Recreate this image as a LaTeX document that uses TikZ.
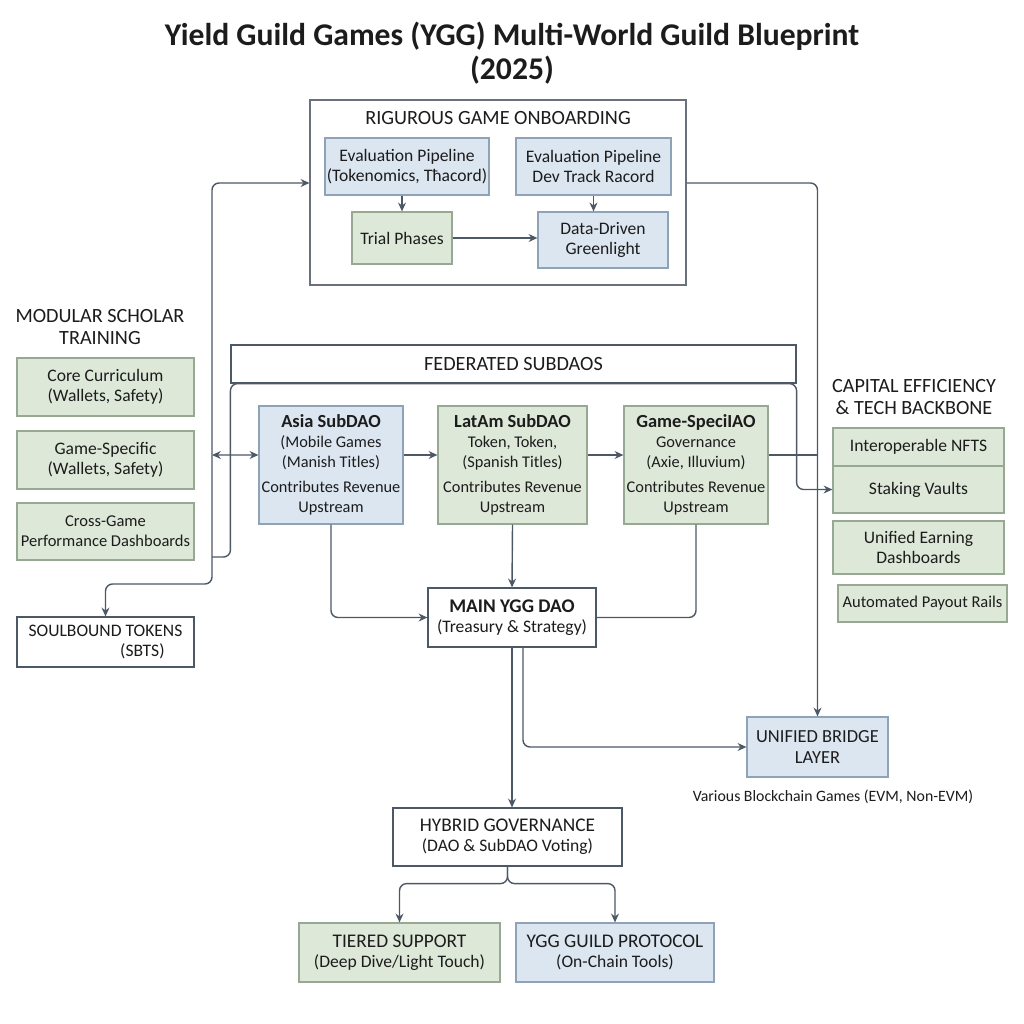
\documentclass[tikz,border=0pt]{standalone}
\usepackage{fontspec}
\setmainfont{Carlito}
\usepackage{tikz}
\usetikzlibrary{arrows.meta}

\definecolor{lineC}{HTML}{4D5866}
\definecolor{textC}{HTML}{1C1C1C}
\definecolor{blueF}{HTML}{DCE6F1}
\definecolor{blueD}{HTML}{8EA2B8}
\definecolor{greenF}{HTML}{DEE8D9}
\definecolor{greenD}{HTML}{97A893}

\newcommand{\capsize}{\fontsize{11}{13}\selectfont}

\begin{document}
\begin{tikzpicture}[x=0.02cm,y=-0.02cm,>={Stealth[length=5pt,width=4.5pt]},
    box/.style={draw=lineC, line width=0.7pt, fill=white, align=center, inner sep=1pt,
                text=textC, font=\fontsize{10}{11.5}\selectfont},
    bluebox/.style={box, draw=blueD, fill=blueF},
    greenbox/.style={box, draw=greenD, fill=greenF},
    subdao/.style={font=\fontsize{9.3}{11.3}\selectfont},
    small/.style={font=\fontsize{9.4}{11.5}\selectfont},
    head/.style={align=center, text=textC, font=\fontsize{11.5}{12.8}\selectfont},
    link/.style={draw=lineC, line width=0.8pt, rounded corners=4pt}]

  % --- canvas -----------------------------------------------------
  \fill[white] (0,0) rectangle (1024,1024);
  \useasboundingbox (0,0) rectangle (1024,1024);

  % --- title ------------------------------------------------------
  \node[align=center, text=textC, font=\fontsize{18}{19.5}\selectfont\bfseries] (title) at (512,53)
        {Yield Guild Games (YGG) Multi-World Guild Blueprint\\(2025)};

  % --- game onboarding --------------------------------------------
  \node[box, draw=lineC!85, minimum width=7.52cm, minimum height=3.70cm] (onboard) at (498,192.5) {};
  \node[head] (onboardT) at (498,118) {RIGUROUS GAME ONBOARDING};
  \node[bluebox, minimum width=3.24cm, minimum height=1.14cm] (evalA) at (407,166.5)
        {Evaluation Pipeline\\(Tokenomics, Tħacord)};
  \node[bluebox, minimum width=3.10cm, minimum height=1.14cm] (evalB) at (593.5,166.5)
        {Evaluation Pipeline\\Dev Track Racord};
  \node[greenbox, minimum width=2.0cm, minimum height=1.04cm] (trial) at (402,238) {Trial Phases};
  \node[bluebox, minimum width=2.6cm, minimum height=1.12cm] (green) at (603,240)
        {Data-Driven\\Greenlight};

  \draw[link,->] (trial.north |- evalA.south) -- (trial.north);
  \draw[link,->] (evalB.south) -- (evalB.south |- green.north);
  \draw[link,->] (trial.east) -- (trial.east -| green.west);

  % --- scholar training -------------------------------------------
  \node[head] (trainT) at (100,327) {MODULAR SCHOLAR\\TRAINING};
  \node[greenbox, minimum width=3.54cm, minimum height=1.16cm] (core) at (105.5,387)
        {Core Curriculum\\(Wallets, Safety)};
  \node[greenbox, minimum width=3.54cm, minimum height=1.16cm] (gspec) at (105.5,460)
        {Game-Specific\\(Wallets, Safety)};
  \node[greenbox, small, minimum width=3.54cm, minimum height=1.14cm] (cross) at (105.5,531.5)
        {Cross-Game\\Performance Dashboards};
  \node[box, minimum width=3.54cm, minimum height=1.0cm] (sbt) at (105.5,642)
        {SOULBOUND TOKENS\\\hspace*{4.2em}(SBTS)};

  % --- federated subdaos ------------------------------------------
  \node[box, minimum width=11.3cm, minimum height=0.76cm, font=\fontsize{11.5}{13}\selectfont]
        (fed) at (513.5,364) {FEDERATED SUBDAOS};
  \node[bluebox, subdao, minimum width=2.88cm, minimum height=2.36cm] (asia) at (331,465)
        {{\fontsize{10.5}{12}\selectfont\bfseries Asia SubDAO}\\(Mobile Games\\(Manish Titles)\\[3pt]Contributes Revenue\\Upstream};
  \node[greenbox, subdao, minimum width=2.98cm, minimum height=2.36cm] (latam) at (512.5,465)
        {{\fontsize{10.5}{12}\selectfont\bfseries LatAm SubDAO}\\Token, Token,\\(Spanish Titles)\\[3pt]Contributes Revenue\\Upstream};
  \node[greenbox, subdao, minimum width=2.88cm, minimum height=2.36cm] (gamesp) at (696,465)
        {{\fontsize{10.5}{12}\selectfont\bfseries Game-SpeciIAO}\\Governance\\(Axie, Illuvium)\\[3pt]Contributes Revenue\\Upstream};

  \draw[link,->] ([yshift=.2cm]asia.east) -- ([yshift=.2cm]latam.west);
  \draw[link,->] ([yshift=.2cm]latam.east) -- ([yshift=.2cm]gamesp.west);

  % --- capital efficiency -----------------------------------------
  \node[head] (capT) at (914,397) {CAPITAL EFFICIENCY\\\& TECH BACKBONE};
  \node[greenbox, minimum width=3.42cm, minimum height=0.76cm] (nfts) at (918.5,447) {Interoperable NFTS};
  \node[greenbox, minimum width=3.42cm, minimum height=0.94cm] (vaults) at (918.5,489.5) {Staking Vaults};
  \node[greenbox, minimum width=3.42cm, minimum height=1.06cm] (earn) at (918.5,547.5)
        {Unified Earning\\Dashboards};
  \node[greenbox, small, minimum width=3.38cm, minimum height=0.74cm] (payout) at (922.5,603.5)
        {Automated Payout Rails};

  % --- main dao and below -----------------------------------------
  \node[box, minimum width=3.36cm, minimum height=1.18cm] (main) at (512,617.5)
        {{\fontsize{11}{13}\selectfont\bfseries MAIN YGG DAO}\\(Treasury \& Strategy)};
  \node[bluebox, minimum width=2.82cm, minimum height=1.2cm, font=\fontsize{10.5}{12.5}\selectfont]
        (bridge) at (817.5,747) {UNIFIED BRIDGE\\LAYER};
  \node[text=textC, font=\fontsize{9}{11}\selectfont] (chains) at (833,797)
        {Various Blockchain Games (EVM, Non-EVM)};
  \node[box, minimum width=4.58cm, minimum height=1.16cm] (hybrid) at (507.5,837)
        {{\capsize HYBRID GOVERNANCE}\\(DAO \& SubDAO Voting)};
  \node[greenbox, minimum width=4.02cm, minimum height=1.18cm] (tiered) at (399.5,952.5)
        {{\capsize TIERED SUPPORT}\\(Deep Dive/Light Touch)};
  \node[bluebox, minimum width=3.96cm, minimum height=1.18cm] (proto) at (615,952.5)
        {{\capsize YGG GUILD PROTOCOL}\\(On-Chain Tools)};

  % --- connectors -------------------------------------------------
  % left bus: onboarding <-> soulbound tokens
  \draw[link,<->] (sbt.north) -- (sbt.north |- 0,584) -- (212,584) -- (212,183)
        -- ([yshift=.19cm]onboard.west);
  \draw[link,<->] (212,455) -- ([yshift=.2cm]asia.west);

  % subdao bracket to staking vaults
  \draw[link,->] (212,557) -| (fed.south west) -- (fed.south east) |- (vaults.west);

  % right bus: onboarding -> bridge
  \draw[link,->] ([yshift=.19cm]onboard.east) -| (bridge.north);
  \draw[link] ([yshift=.2cm]gamesp.east) -- ([yshift=.2cm]gamesp.east -| bridge.north);

  % revenue upstream
  \draw[link,->] (latam.south) -- (main.north);
  \draw[link,->] (asia.south) |- (main.west);
  \draw[link] (gamesp.south) |- (main.east);

  % main dao down
  \draw[link,->] (main.south) -- (main.south |- hybrid.north);
  \draw[link,->] ([xshift=.22cm]main.south) |- (bridge.west);

  % governance split
  \draw[link,->] (hybrid.south) -- ++(0,17) -| (tiered.north);
  \draw[link,->] (hybrid.south) -- ++(0,17) -| (proto.north);

\end{tikzpicture}
\end{document}
